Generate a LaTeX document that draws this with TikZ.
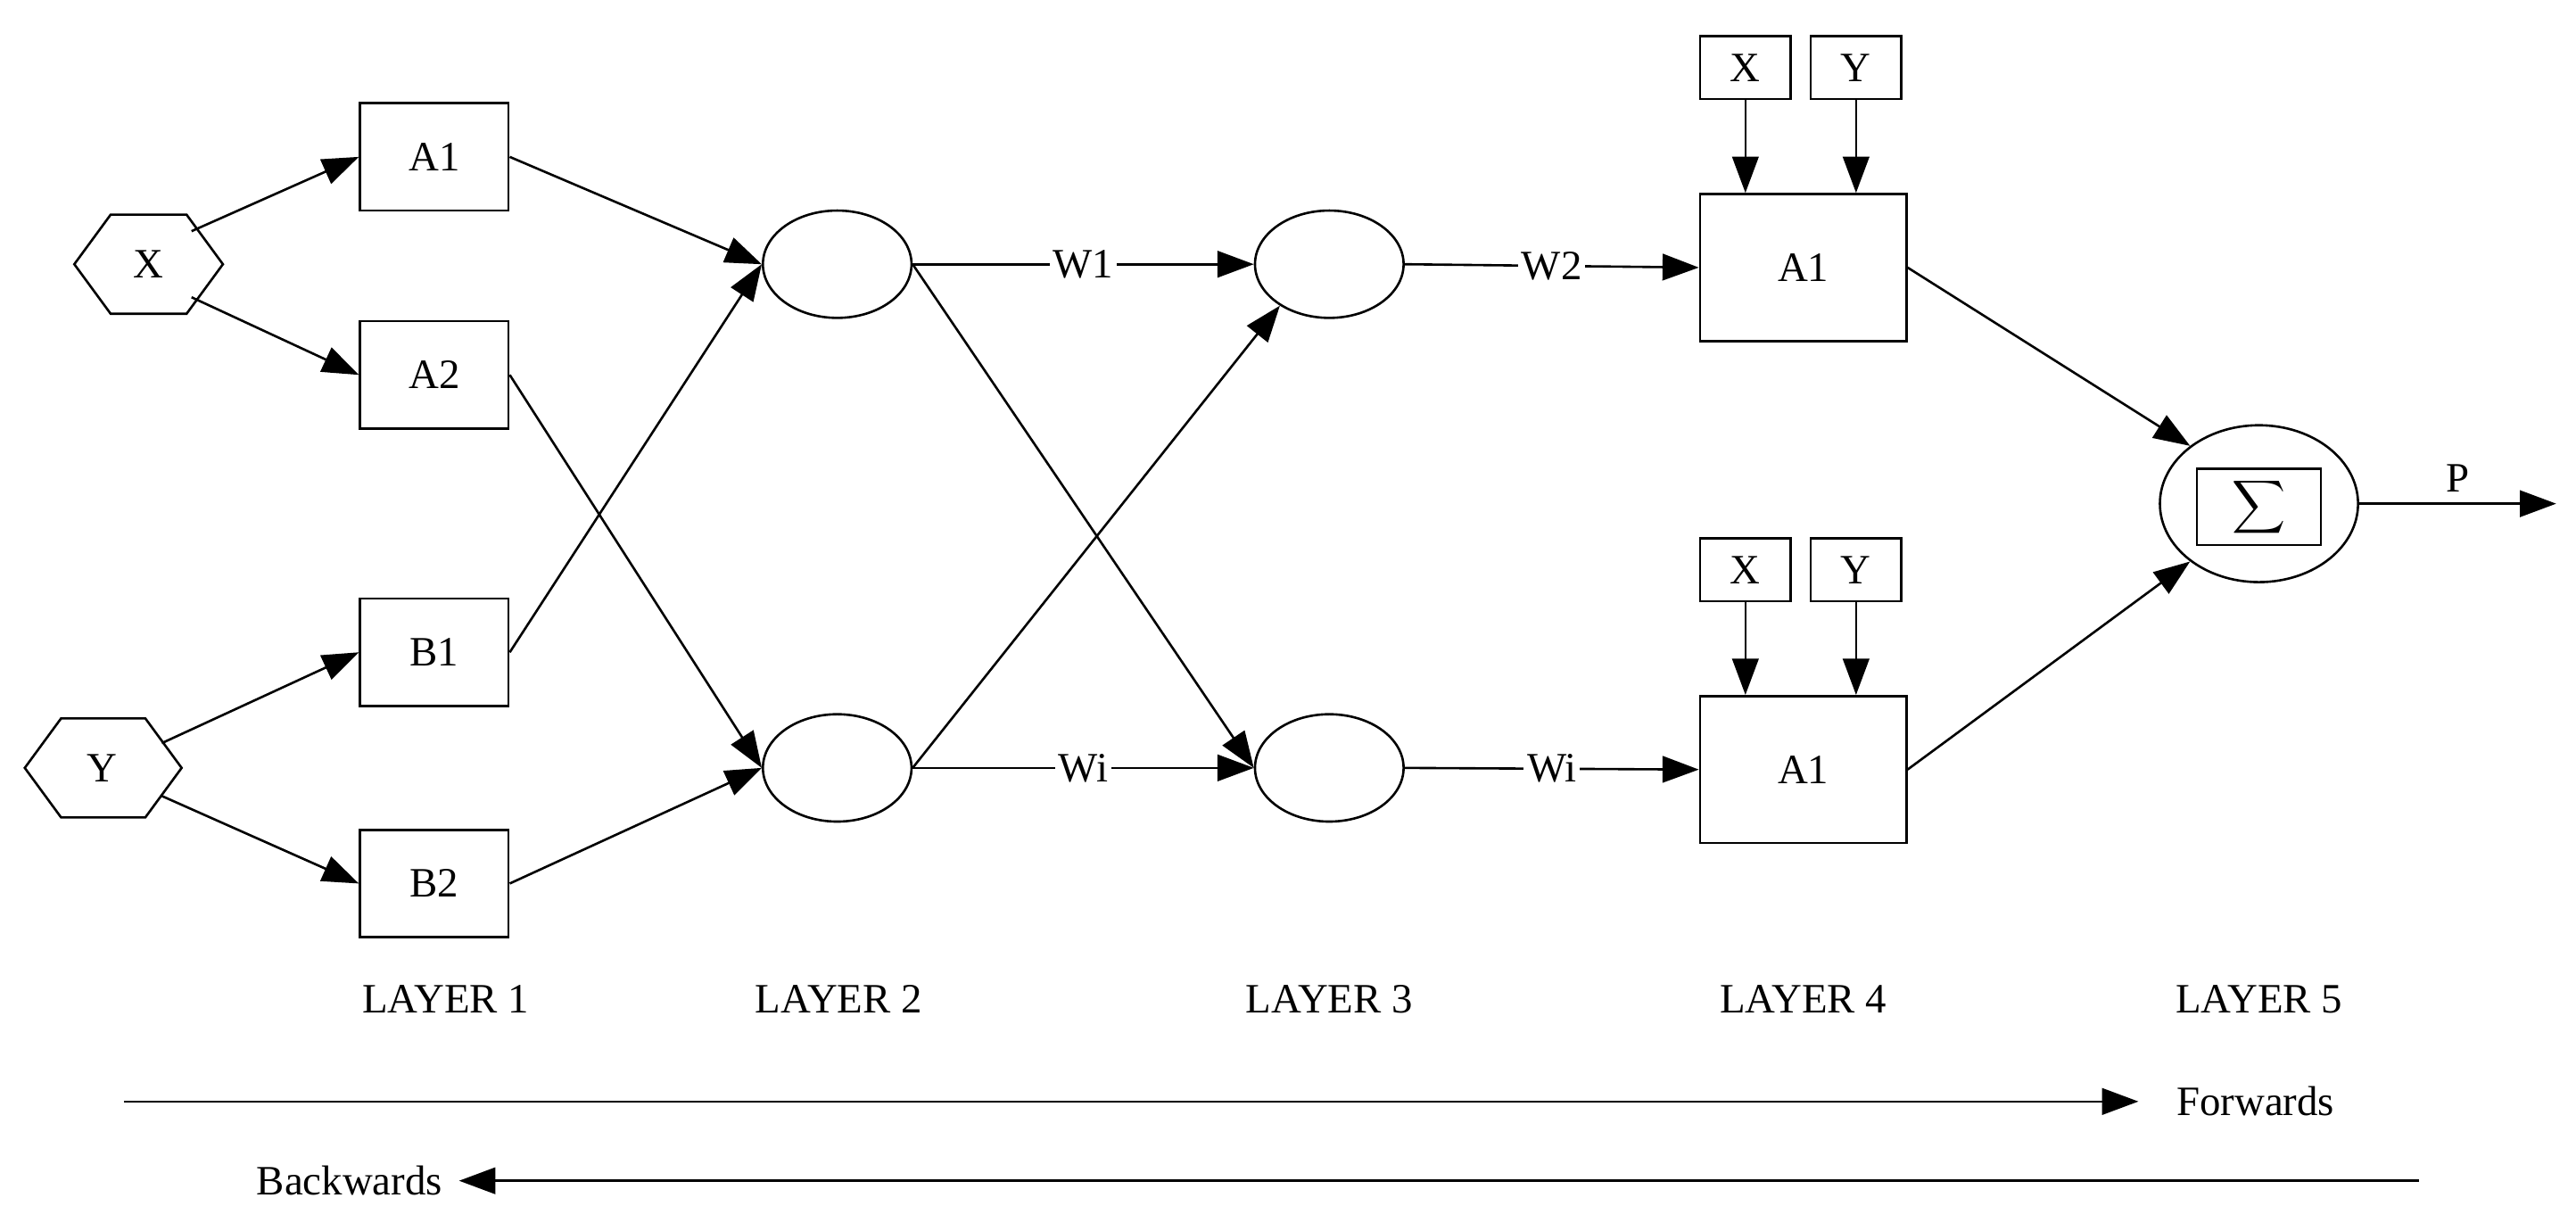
\documentclass[tikz,border=0pt]{standalone}
\usepackage{fontspec}
\setmainfont{Liberation Serif}
\usetikzlibrary{shapes.geometric,arrows.meta}
\begin{document}
\begin{tikzpicture}[x=0.05cm,y=-0.05cm,
  every node/.style={font=\fontsize{36}{42}\selectfont},
  lw/.style={line width=2pt},
  arr/.style={lw,-{Triangle[length=1.1cm,width=0.8cm]}},
  box/.style={draw,lw,minimum width=4.5cm,minimum height=3.25cm,inner sep=0},
  bbox/.style={draw,lw,minimum width=6.25cm,minimum height=4.45cm,inner sep=0},
  sbox/.style={draw,lw,minimum width=2.75cm,minimum height=1.9cm,inner sep=0},
  ell/.style={draw,lw,ellipse,minimum width=4.5cm,minimum height=3.25cm,inner sep=0},
  lab/.style={fill=white,inner sep=3pt}]
\useasboundingbox (0,0) rectangle (1560,745);
% hexagons
\draw[lw] (45,160)--(67,130)--(113,130)--(135,160)--(113,190)--(67,190)--cycle;
\node[minimum width=4cm,minimum height=3cm] (X) at (90,160) {X};
\draw[lw] (15,465)--(37,435)--(88,435)--(110,465)--(88,495)--(37,495)--cycle;
\node[minimum width=4.75cm,minimum height=3cm] (Y) at (62,465) {Y};
% layer 1
\node[box] (A1) at (263,95) {A1};
\node[box] (A2) at (263,227) {A2};
\node[box] (B1) at (263,395) {B1};
\node[box] (B2) at (263,535) {B2};
% layer 2,3
\node[ell] (L2a) at (507,160) {};
\node[ell] (L2b) at (507,465) {};
\node[ell] (L3a) at (805,160) {};
\node[ell] (L3b) at (805,465) {};
% layer 4
\node[bbox] (L4a) at (1092,162) {A1};
\node[bbox] (L4b) at (1092,466) {A1};
\node[sbox] (Xa) at (1057,41) {X};
\node[sbox] (Ya) at (1124,41) {Y};
\node[sbox] (Xb) at (1057,345) {X};
\node[sbox] (Yb) at (1124,345) {Y};
% sigma
\node[draw,lw,ellipse,minimum width=6cm,minimum height=4.75cm,inner sep=0] (S) at (1368,305) {};
\node[draw,lw,minimum width=3.75cm,minimum height=2.3cm,inner sep=0] (Sg) at (1368,307) {\scalebox{3.2}{$\displaystyle\sum$}};
\coordinate (Pend) at (1548,305);
% edges
\draw[arr] (116,140) -- (A1.west);
\draw[arr] (116,180) -- (A2.west);
\draw[arr] (98,450) -- (B1.west);
\draw[arr] (98,482) -- (B2.west);
\draw[arr] (A1.east) -- (L2a.west);
\draw[arr] (B1.east) -- (L2a.west);
\draw[arr] (A2.east) -- (L2b.west);
\draw[arr] (B2.east) -- (L2b.west);
\draw[arr] (L2a.east) -- node[lab]{W1} (L3a.west);
\draw[arr] (L2b.east) -- node[lab]{Wi} (L3b.west);
\draw[arr] (L2a.east) -- (L3b.west);
\draw[arr] (L2b.east) -- (L3a.220);
\draw[arr] (L3a.east) -- node[lab]{W2} (L4a.west);
\draw[arr] (L3b.east) -- node[lab]{Wi} (L4b.west);
\draw[arr] (Xa) -- (Xa|-L4a.north);
\draw[arr] (Ya) -- (Ya|-L4a.north);
\draw[arr] (Xb) -- (Xb|-L4b.north);
\draw[arr] (Yb) -- (Yb|-L4b.north);
\draw[arr] (L4a.east) -- (S.140);
\draw[arr] (L4b.east) -- (S.220);
\draw[arr] (S.east) -- node[above=6pt]{P} (Pend);
% layer labels
\node (T1) at (270,605) {LAYER 1};
\node (T2) at (508,605) {LAYER 2};
\node (T3) at (805,605) {LAYER 3};
\node (T4) at (1092,605) {LAYER 4};
\node (T5) at (1368,605) {LAYER 5};
% directions
\coordinate (F0) at (75,667);
\node[anchor=west,inner sep=0] (Fw) at (1318,667) {Forwards};
\coordinate (F1) at (1295,667);
\draw[arr] (F0) -- (F1);
\node[anchor=east,inner sep=0] (Bw) at (268,715) {Backwards};
\coordinate (B0) at (1465,715);
\coordinate (B1e) at (278,715);
\draw[arr] (B0) -- (B1e);
\end{tikzpicture}
\end{document}
